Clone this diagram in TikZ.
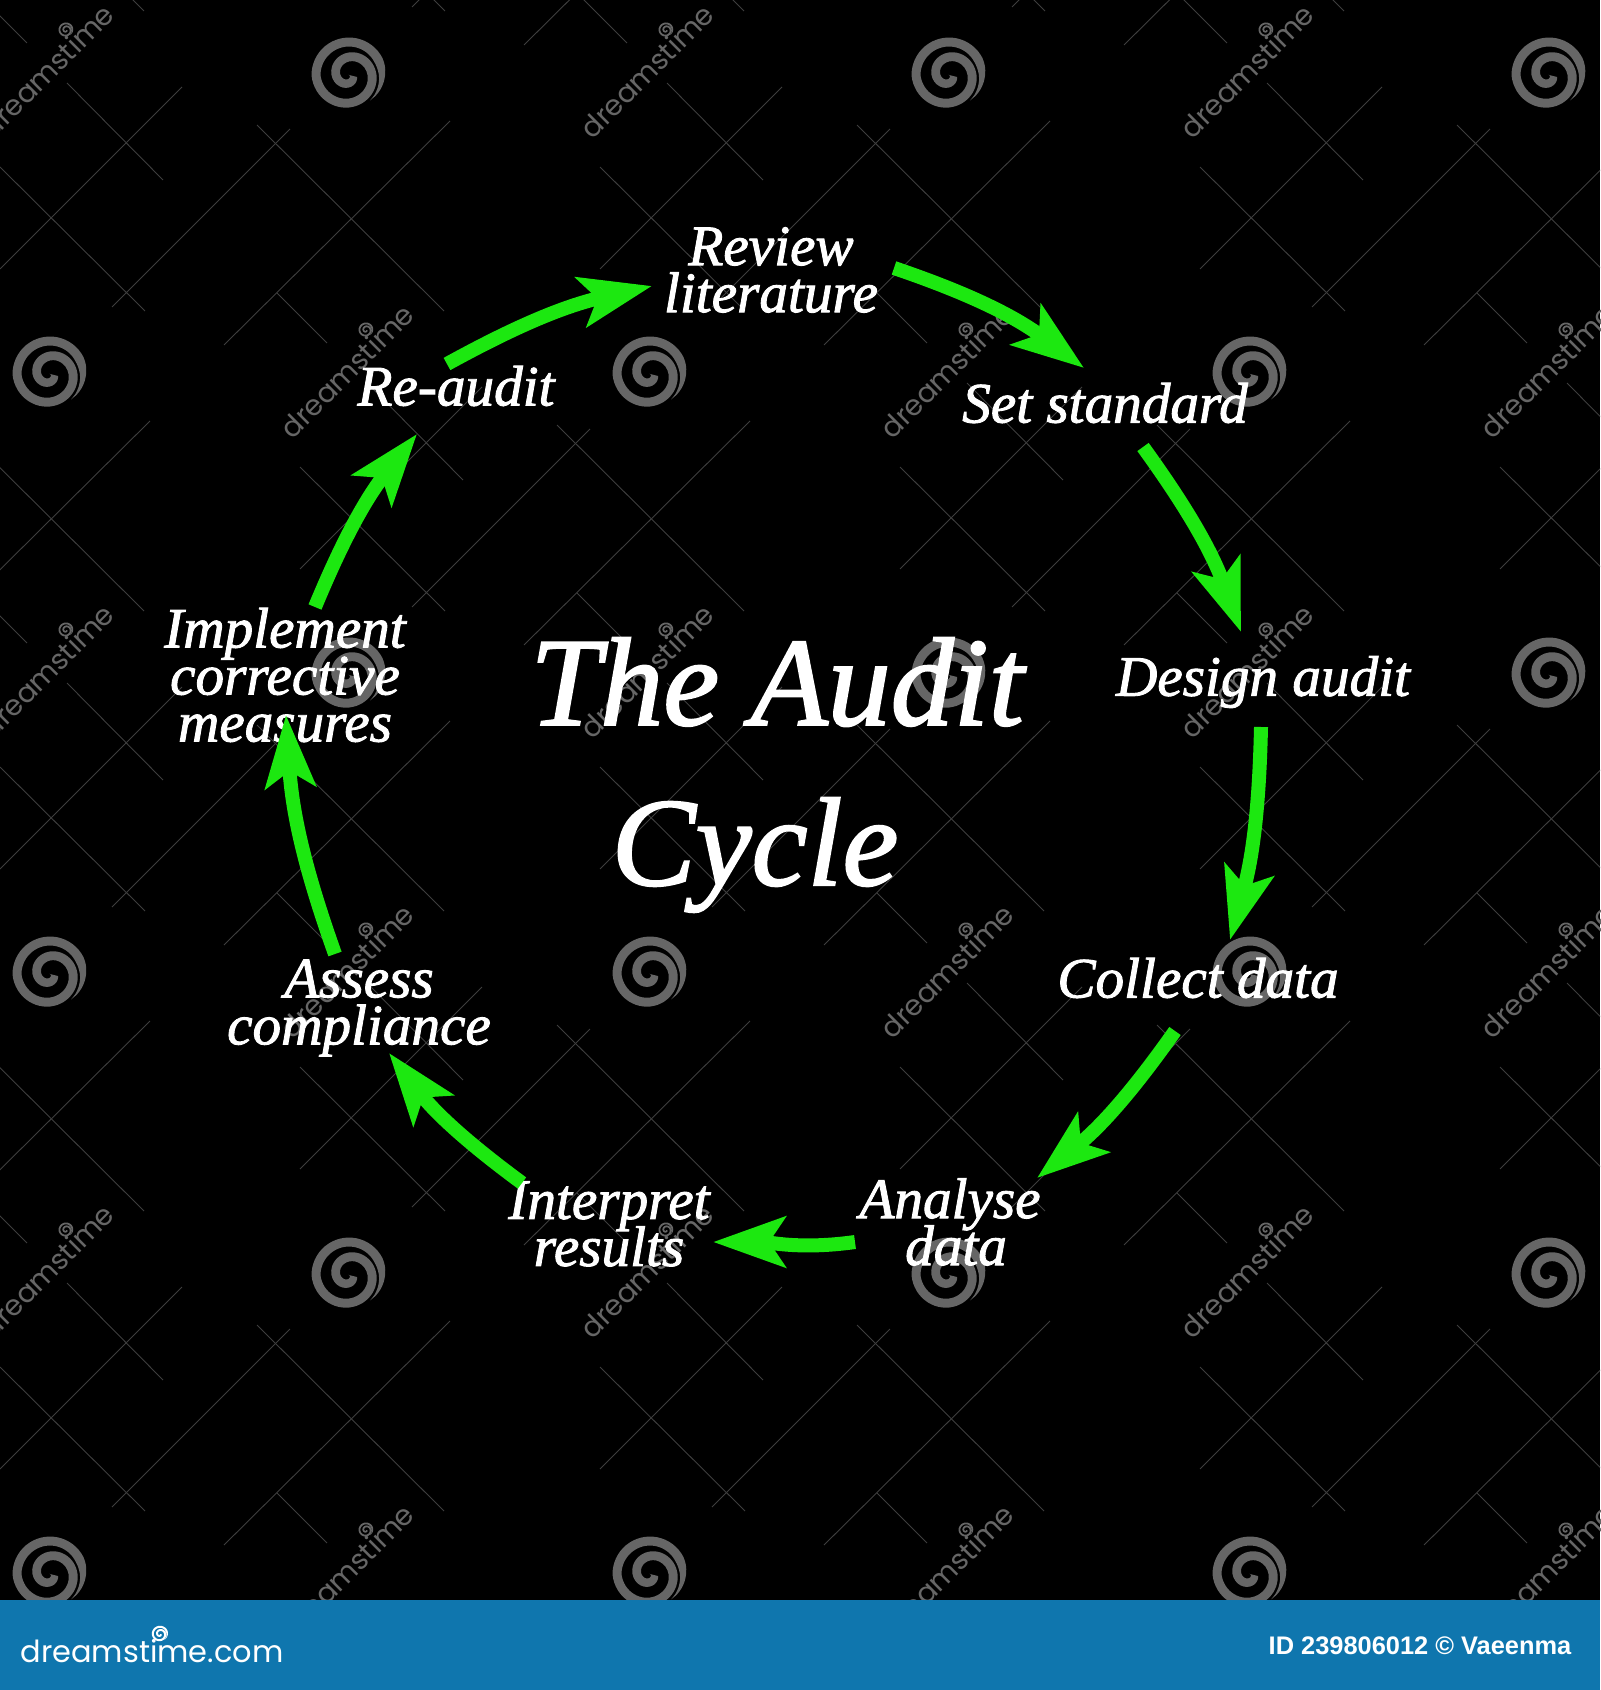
\documentclass[tikz,border=0pt]{standalone}
\usepackage{fontspec}
\usetikzlibrary{arrows.meta}
\newfontfamily\labfam[FakeBold=1.6]{Liberation Serif Italic}
\newfontfamily\wmfam{Poppins}
\newfontfamily\idfam{Liberation Sans Bold}
\definecolor{flowgreen}{HTML}{1CE810}
\definecolor{barblue}{HTML}{0F76AE}
\definecolor{wmgray}{HTML}{666666}
\definecolor{wmline}{HTML}{3E3E3E}
\lineskiplimit=-100pt\relax
\tikzset{
  lab/.style={font=\labfam\fontsize{28.6}{23.5}\selectfont,align=center,inner sep=0pt,text=white},
  ttl/.style={font=\labfam\fontsize{63}{70}\selectfont,inner sep=0pt,text=white},
  flow/.style={draw=flowgreen,line width=7pt,-{Stealth[length=36pt,width=25pt,inset=8pt,fill=flowgreen]}},
  wmtext/.style={font=\wmfam\fontsize{14.2}{16}\selectfont,text=wmgray,rotate=45,inner sep=0pt},
  wmcross/.style={draw=wmline,line width=0.45pt},
  spiralmark/.pic={
    \fill[#1] plot[smooth,samples=60,domain=0:2.1,variable=\u]
      ({(min(33,3.8+20*\u)+4.5*min(1,(2.1-\u)/0.2))*cos(360*\u-706)},{(min(33,3.8+20*\u)+4.5*min(1,(2.1-\u)/0.2))*sin(360*\u-706)})
      -- plot[smooth,samples=60,domain=2.1:0,variable=\u]
      ({(min(33,3.8+20*\u)-4.5*min(1,(2.1-\u)/0.2))*cos(360*\u-706)},{(min(33,3.8+20*\u)-4.5*min(1,(2.1-\u)/0.2))*sin(360*\u-706)})
      -- cycle;
  }
}
\begin{document}
\begin{tikzpicture}[x=0.5pt,y=-0.5pt]
\useasboundingbox (0,0) rectangle (1600,1690);
\fill[black] (0,0) rectangle (1600,1600);
\begin{scope}
\clip (0,0) rectangle (1600,1600);
% faint watermark lines
\foreach \dx/\dy in {-600/-600,0/-600,600/-600,1200/-600,-600/0,0/0,600/0,1200/0,-600/600,0/600,600/600,1200/600,-600/1200,0/1200,600/1200,1200/1200,-300/-300,300/-300,900/-300,1500/-300,-300/300,300/300,900/300,1500/300,-300/900,300/900,900/900,1500/900}{
  \begin{scope}[shift={(\dx,\dy)}]
    \path[wmcross] (67,83) -- (163,180);
    \path[wmcross] (182,87) -- (0,269);
    \path[wmcross] (0,167) -- (145,311);
    \path[wmcross] (290,129) -- (112,307);
    \path[wmcross] (257,125) -- (444,311);
    \path[wmcross] (450,121) -- (224,345);
    \path[wmcross] (277,293) -- (327,343);
  \end{scope}
}
% spirals and words
\foreach \px/\py in {349/75,949/75,1549/75,349/675,949/675,1549/675,349/1275,949/1275,1549/1275,50/374,650/374,1250/374,50/974,650/974,1250/974,50/1574,650/1574,1250/1574}{
  \pic at (\px,\py) {spiralmark=wmgray};
}
\foreach \px/\py/\nm in {47/71/a,647/71/b,1247/71/c,47/671/d,647/671/e,1247/671/f,47/1271/g,647/1271/h,1247/1271/i,347/371/j,947/371/k,1547/371/l,347/971/m,947/971/n,1547/971/o,347/1571/p,947/1571/q,1547/1571/r}{
  \node[wmtext] (wm\nm) at (\px,\py) {dreamstime};
  \pic[scale=0.2] at (\px+19,\py-41) {spiralmark=wmgray};
}
\end{scope}
% banner
\fill[barblue] (0,1600) rectangle (1600,1690);
\node[font=\wmfam\fontsize{15.2}{18}\selectfont,text=white,inner sep=0pt] (brand) at (152,1651) {dreamstime.com};
\pic[scale=0.22] at (160,1634) {spiralmark=white};
\node[font=\idfam\fontsize{12.7}{15}\selectfont,text=white,inner sep=0pt] (idtext) at (1420,1646) {ID 239806012 © Vaeenma};
% title
\node[ttl] (t1) at (777,682) {The Audit};
\node[ttl] (t2) at (755,855) {Cycle};
% labels
\node[lab] (n1) at (771,270) {Review\\literature};
\node[lab] (n2) at (1105,403) {Set standard};
\node[lab] (n3) at (1263,682) {Design audit};
\node[lab] (n4) at (1198,978) {Collect data};
\node[lab] (n5) at (950,1222) {Analyse\\\hspace{6pt}data};
\node[lab] (n6) at (609,1224) {Interpret\\results};
\node[lab] (n7) at (359,1008) {Assess\\compliance};
\node[lab] (n8) at (285,675) {Implement\\corrective\\measures};
\node[lab] (n9) at (456,386) {Re-audit};
% connectors (offsets are measured from the label centres)
\draw[flow] ([shift={(123,-2)}]n1.center) to[bend left=9] ([shift={(-21,-35)}]n2.center);
\draw[flow] ([shift={(38,44)}]n2.center) to[bend left=8] ([shift={(-22,-50)}]n3.center);
\draw[flow] ([shift={(-2,45)}]n3.center) to[bend left=7] ([shift={(32,-38)}]n4.center);
\draw[flow] ([shift={(-23,53)}]n4.center) to[bend left=8] ([shift={(87,-44)}]n5.center);
\draw[flow] ([shift={(-95,20)}]n5.center) to[out=188,in=0] ([shift={(104,18)}]n6.center);
\draw[flow] ([shift={(-87,-41)}]n6.center) to[bend left=8] ([shift={(30,45)}]n7.center);
\draw[flow] ([shift={(-24,-54)}]n7.center) to[bend left=8] ([shift={(1,40)}]n8.center);
\draw[flow] ([shift={(30,-68)}]n8.center) to[bend left=8] ([shift={(-39,48)}]n9.center);
\draw[flow] ([shift={(-9,-22)}]n9.center) to[bend left=8] ([shift={(-119,16)}]n1.center);
\end{tikzpicture}
\end{document}
